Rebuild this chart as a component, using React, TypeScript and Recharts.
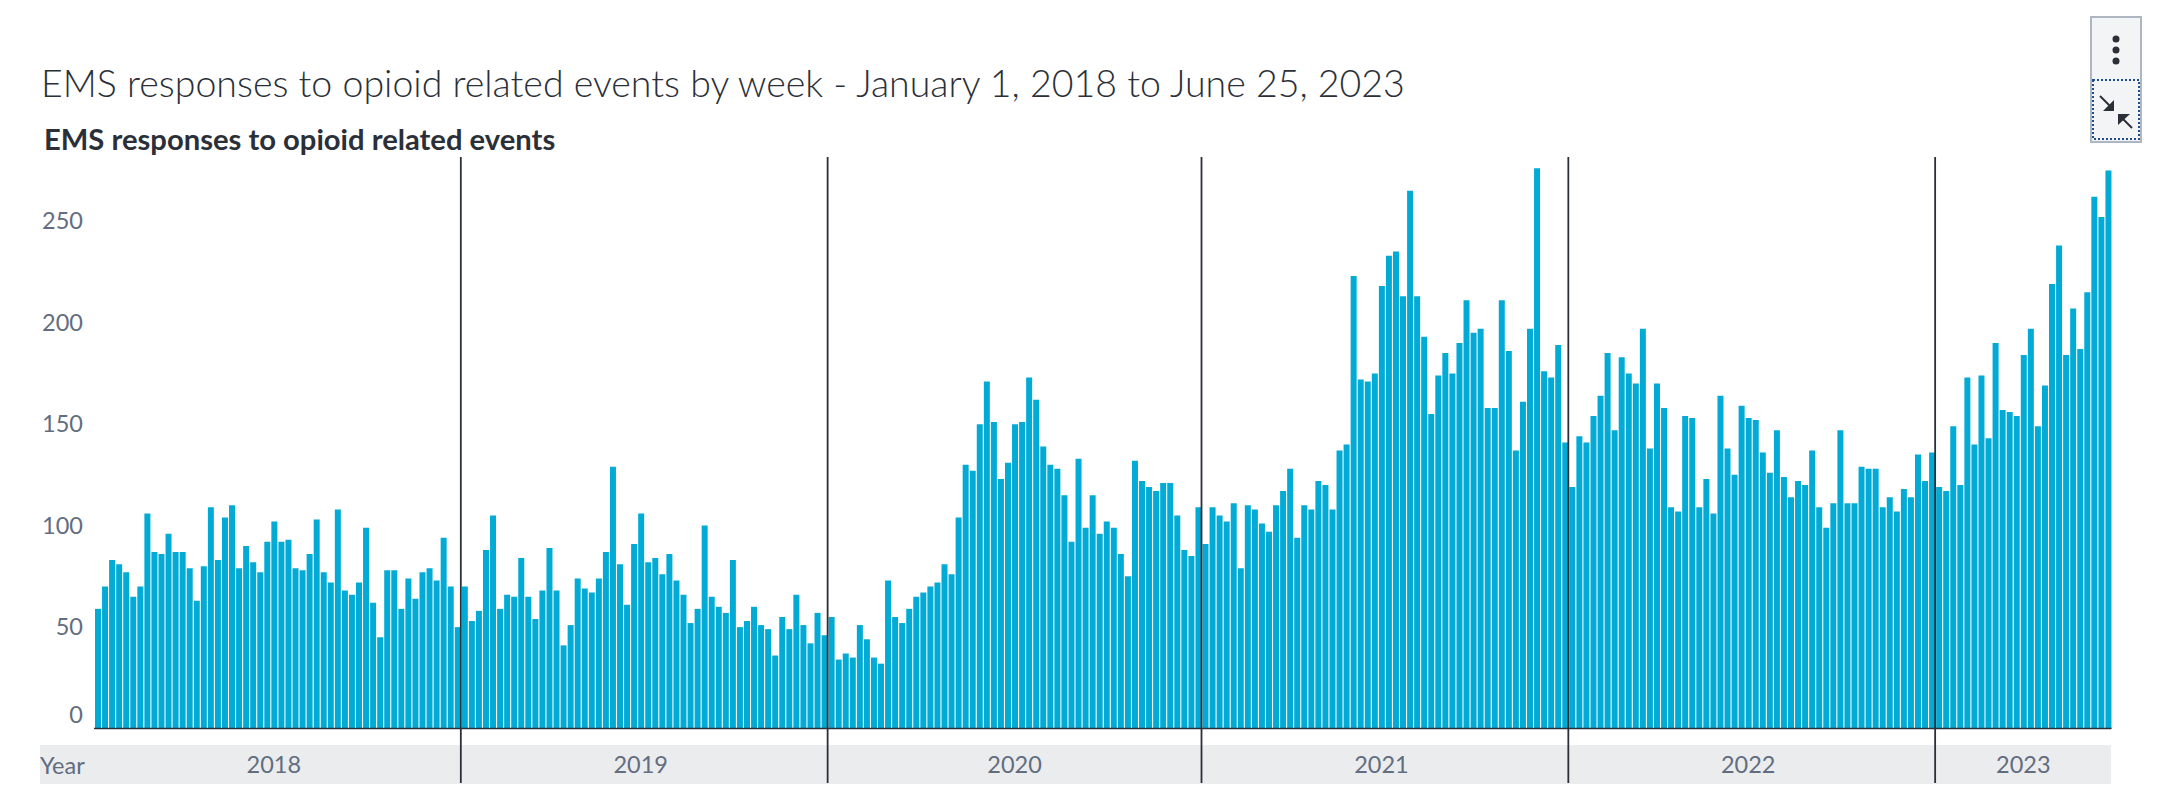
import React from "react";
import { BarChart, Bar, XAxis, YAxis, ReferenceLine } from "recharts";

const values2018 = [59, 70, 83, 81, 77, 65, 70, 106, 87, 86, 96, 87, 87, 79, 63, 80, 109, 83, 104, 110, 79, 90, 82, 77, 92, 102, 92, 93, 79, 78, 86, 103, 77, 72, 108, 68, 66, 72, 99, 62, 45, 78, 78, 59, 74, 64, 77, 79, 73, 94, 70, 50];
const values2019 = [70, 53, 58, 88, 105, 59, 66, 65, 84, 65, 54, 68, 89, 68, 41, 51, 74, 69, 67, 74, 87, 129, 81, 61, 91, 106, 82, 84, 76, 86, 73, 66, 52, 59, 100, 65, 60, 57, 83, 50, 53, 60, 51, 49, 36, 55, 49, 66, 51, 42, 57, 46];
const values2020 = [55, 34, 37, 35, 51, 44, 35, 32, 73, 55, 52, 59, 65, 67, 70, 72, 81, 76, 104, 130, 127, 150, 171, 151, 123, 131, 150, 151, 173, 162, 139, 130, 128, 115, 92, 133, 99, 115, 96, 102, 99, 86, 75, 132, 122, 119, 117, 121, 121, 105, 88, 85, 109];
const values2021 = [91, 109, 105, 102, 111, 79, 110, 108, 101, 97, 110, 117, 128, 94, 110, 108, 122, 120, 108, 137, 140, 223, 172, 171, 175, 218, 233, 235, 213, 265, 213, 193, 155, 174, 185, 175, 190, 211, 195, 197, 158, 158, 211, 186, 137, 161, 197, 276, 176, 173, 189, 141];
const values2022 = [119, 144, 141, 154, 164, 185, 147, 183, 175, 170, 197, 138, 170, 158, 109, 107, 154, 153, 109, 123, 106, 164, 138, 125, 159, 153, 152, 136, 126, 147, 124, 114, 122, 120, 137, 109, 99, 111, 147, 111, 111, 129, 128, 128, 109, 114, 107, 118, 114, 135, 122, 136];
const values2023 = [119, 117, 149, 120, 173, 140, 174, 143, 190, 157, 156, 154, 184, 197, 149, 169, 219, 238, 184, 207, 187, 215, 262, 252, 275];

const yearLabels = ["2018", "2019", "2020", "2021", "2022", "2023"];
const yearStartWeeks = [52, 104, 157, 209, 261];
const yearMidWeeks = [25, 77, 130, 182, 234, 273];
const yTicks = [0, 50, 100, 150, 200, 250];

const chartData = [...values2018, ...values2019, ...values2020, ...values2021, ...values2022, ...values2023].map(
  (count, week) => ({ week, count })
);

const FONT = "Lato, 'Open Sans', sans-serif";
const DARK = "#2b3038";
const MUTED = "#626d80";

// year dividers run on down through the year band
const YearLine = (props: any) => (
  <line
    x1={props.x1}
    y1={Math.min(props.y1, props.y2)}
    x2={props.x2}
    y2={Math.max(props.y1, props.y2) + 54.5}
    stroke={DARK}
    strokeWidth={1.8}
  />
);

const ValueTick = (props: any) => {
  const { x, y, payload } = props;
  // the 0 label sits above the axis line
  const shift = payload.value === 0 ? -13.5 : 0;
  return (
    <text x={x} y={y + shift} dy="0.35em" textAnchor="end" fontFamily={FONT} fontSize={23.5} fill={MUTED}>
      {payload.value}
    </text>
  );
};

const MenuButtons = () => (
  <div
    style={{
      position: "absolute",
      left: 2090,
      top: 16,
      width: 48,
      height: 123,
      border: "2px solid #aeb6c1",
      background: "#f3f4f6",
    }}
  >
    <svg width={48} height={123} style={{ position: "absolute", left: 0, top: 0 }}>
      <circle cx={24} cy={21} r={3.5} fill={DARK} />
      <circle cx={24} cy={32} r={3.5} fill={DARK} />
      <circle cx={24} cy={43} r={3.5} fill={DARK} />
      <rect x={1} y={62} width={46} height={59} fill="none" stroke="#1f4e8c" strokeWidth={2} strokeDasharray="2 2" />
      <path d="M22 82 L22 93 L11 93 Z" fill={DARK} />
      <path d="M8 78 L18 88" stroke={DARK} strokeWidth={2} />
      <path d="M26 96 L26 107 L38 96 Z" fill={DARK} />
      <path d="M30 100 L40 110" stroke={DARK} strokeWidth={2} />
    </svg>
  </div>
);

export default function App() {
  return (
    <div style={{ position: "absolute", left: 0, top: 0, width: 2161, height: 795, background: "#fff", overflow: "hidden" }}>
      <div style={{ position: "absolute", left: 41, top: 62, fontFamily: FONT, fontWeight: 300, fontSize: 37.5, lineHeight: "42px", color: DARK, whiteSpace: "nowrap" }}>
        EMS responses to opioid related events by week - January 1, 2018 to June 25, 2023
      </div>
      <div style={{ position: "absolute", left: 44, top: 123, fontFamily: FONT, fontWeight: 700, fontSize: 29.2, lineHeight: "32px", color: DARK, whiteSpace: "nowrap" }}>
        EMS responses to opioid related events
      </div>
      <div style={{ position: "absolute", left: 40, top: 745, width: 2071, height: 39, background: "#ebecee" }} />
      <div style={{ position: "absolute", left: 40, top: 750, fontFamily: FONT, fontSize: 23.5, lineHeight: "30px", color: MUTED }}>Year</div>
      <div style={{ position: "absolute", left: 0, top: 0 }}>
        <BarChart
          width={2161}
          height={795}
          data={chartData}
          barSize={6}
          margin={{ top: 157, right: 49.5, bottom: 0, left: 0 }}
        >
          <XAxis
            dataKey="week"
            type="category"
            height={66.4}
            ticks={yearMidWeeks}
            interval={0}
            tickLine={false}
            tickSize={0}
            tickMargin={28}
            axisLine={{ stroke: DARK, strokeWidth: 1.5 }}
            tickFormatter={(week: number) => yearLabels[yearMidWeeks.indexOf(week)]}
            tick={{ fontFamily: FONT, fontSize: 23.5, fill: MUTED }}
          />
          <YAxis
            width={94}
            domain={[0, 281.6]}
            ticks={yTicks}
            interval={0}
            axisLine={false}
            tickLine={false}
            tickSize={0}
            tickMargin={11}
            tick={<ValueTick />}
          />
          <Bar dataKey="count" fill="#02abd6" isAnimationActive={false} />
          {yearStartWeeks.map((week) => (
            <ReferenceLine key={week} x={week} position="start" shape={<YearLine />} />
          ))}
        </BarChart>
      </div>
      <MenuButtons />
    </div>
  );
}
